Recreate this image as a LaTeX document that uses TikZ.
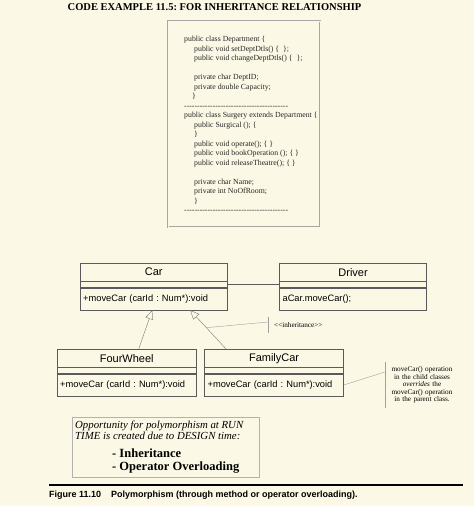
\documentclass[tikz,border=0pt]{standalone}
\usepackage{fontspec}
\setmainfont{Liberation Serif}
\setsansfont{Liberation Sans}
\usetikzlibrary{arrows.meta,positioning}
\frenchspacing

\definecolor{paper}{RGB}{251,248,229}
\definecolor{umlline}{RGB}{90,90,90}
\definecolor{noteline}{RGB}{160,160,160}
\newcommand\dashrow{\foreach\k in {1,...,40}{-\kern0pt}}

\begin{document}
\begin{tikzpicture}[
  x=1pt, y=-1pt,
  node distance=0pt,
  cls/.style={draw=umlline, minimum width=#1, minimum height=18pt, inner sep=0pt, font=\sffamily\fontsize{11}{12}\selectfont},
  clsgap/.style={draw=umlline, minimum width=#1, minimum height=6pt, inner sep=0pt},
  clsops/.style={draw=umlline, text width=#1, minimum height=22pt, inner xsep=3pt, inner ysep=0pt, align=left, font=\sffamily\fontsize{9.3}{11}\selectfont},
  inherit/.style={draw=umlline!80, -{Triangle[open,length=9pt,width=8pt,fill=paper]}},
  notebar/.style={draw=noteline, line width=.5pt},
  notetxt/.style={inner sep=0pt, align=center, font=\fontsize{7.2}{7.4}\selectfont}
]
  \fill[paper] (0,0) rectangle (474,506);
  \useasboundingbox (0,0) rectangle (474,506);

  % code listing
  \node[font=\bfseries\fontsize{10.5}{12}\selectfont] (title) at (214.5,7) {CODE EXAMPLE 11.5: FOR INHERITANCE RELATIONSHIP};
  \node[draw=gray!70, double=paper, double distance=.7pt, minimum width=152pt, minimum height=206pt, anchor=north west, inner sep=0pt] (codebox) at (168,21) {};
  \node[anchor=north west, inner sep=0pt, align=left, text=black!85, font=\fontsize{7.8}{9.5}\selectfont] (code) at (184,36) {%
    public class Department \{\\
    \hspace*{10pt}public void setDeptDtls() \{\hspace{4pt}\};\\
    \hspace*{10pt}public void changeDeptDtls() \{\hspace{4pt}\};\\[9.5pt]
    \hspace*{10pt}private char DeptID;\\
    \hspace*{10pt}private double Capacity;\\
    \hspace*{8pt}\}\\
    \dashrow\\
    public class Surgery extends Department \{\\
    \hspace*{10pt}public Surgical (); \{\\
    \hspace*{10pt}\}\\
    \hspace*{10pt}public void operate(); \{ \}\\
    \hspace*{10pt}public void bookOperation (); \{ \}\\
    \hspace*{10pt}public void releaseTheatre(); \{ \}\\[9.5pt]
    \hspace*{10pt}private char Name;\\
    \hspace*{10pt}private int NoOfRoom;\\
    \hspace*{10pt}\}\\
    \dashrow};

  % classes
  \node[cls=147pt, anchor=north west] (car) at (80,263) {Car};
  \node[clsgap=147pt, below=of car] (cargap) {};
  \node[clsops=141pt, below=of cargap] (carops) {+moveCar (carId : Num*):void};

  \node[cls=147pt, right=52pt of car] (driver) {Driver};
  \node[clsgap=147pt, below=of driver] (drvgap) {};
  \node[clsops=141pt, below=of drvgap] (drvops) {aCar.moveCar();};

  \node[cls=139pt, anchor=north west] (four) at (57,349) {FourWheel};
  \node[clsgap=139pt, below=of four] (fourgap) {};
  \node[clsops=133pt, below=of fourgap] (fourops) {+moveCar (carId : Num*):void};

  \node[cls=139pt, right=8pt of four] (family) {FamilyCar};
  \node[clsgap=139pt, below=of family] (famgap) {};
  \node[clsops=133pt, below=of famgap] (famops) {+moveCar (carId : Num*):void};

  \draw[umlline] (cargap) -- (drvgap);
  \draw[inherit] ([xshift=12pt]four.north) -- ([xshift=-1.5pt]carops.south);
  \draw[inherit] ([xshift=-48pt]family.north) -- coordinate[pos=.55] (inhpt) ([xshift=36.5pt]carops.south);

  % notes
  \node[anchor=west, inner xsep=6pt, inner ysep=0pt, minimum height=15pt, font=\fontsize{7.2}{8}\selectfont] (inhlbl) at (268,325) {\textless\kern0pt\textless inheritance\textgreater\kern0pt\textgreater};
  \draw[notebar] (inhlbl.north west) -- (inhlbl.south west);
  \draw[noteline] (inhpt) -- ([yshift=3pt]inhlbl.west);

  \node[notetxt, text width=74pt, minimum height=45pt, right=41pt of famops] (note) {moveCar() operation\\in the child classes\\\textit{overrides} the\\moveCar() operation\\in the parent class.};
  \draw[notebar] (note.north west) -- (note.south west);
  \draw[noteline] (famops.east) -- ([yshift=13pt]note.west);

  % summary box
  \node[draw=gray!60, minimum width=187pt, minimum height=60pt, anchor=north west, inner sep=0pt] (oppbox) at (72,417) {};
  \node[anchor=north west, inner sep=0pt, align=left, font=\itshape\fontsize{10.8}{11.5}\selectfont] (opptext) at ([xshift=3pt,yshift=-3.5pt]oppbox.north west) {Opportunity for polymorphism at RUN\\TIME is created due to DESIGN time:};
  \node[anchor=north west, inner sep=0pt, align=left, font=\bfseries\fontsize{12.5}{13}\selectfont, below right=8pt and 37pt of opptext.south west] (opplist) {- Inheritance\\- Operator Overloading};

  % caption
  \draw[line width=2pt] (49,485) -- (463,485);
  \node[anchor=west, inner sep=0pt, font=\sffamily\bfseries\fontsize{9}{10}\selectfont] (caption) at (49,495.5) {Figure 11.10\hspace{10pt}Polymorphism (through method or operator overloading).};
\end{tikzpicture}
\end{document}
